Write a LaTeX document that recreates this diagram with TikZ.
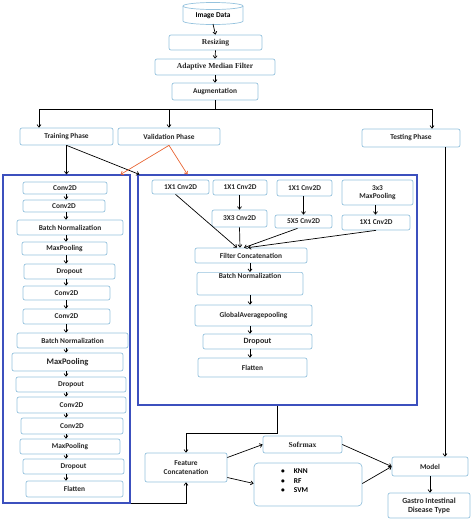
\documentclass[tikz,border=0pt]{standalone}
\usepackage{fontspec}
\setmainfont{Carlito}
\newfontfamily\serifb{Liberation Serif}
\usetikzlibrary{arrows.meta,calc}
\definecolor{nb}{RGB}{150,195,222}
\definecolor{fb}{RGB}{60,80,190}
\definecolor{orr}{RGB}{232,100,50}
\begin{document}
\begin{tikzpicture}[x=1pt,y=-1pt,
  box/.style={draw=nb, line width=0.7pt, rounded corners=2pt, fill=white,
    font=\fontsize{7.4}{8.4}\selectfont\bfseries, inner sep=1pt, align=center, text=black!85},
  sbox/.style={box, font=\fontsize{7.6}{8.6}\selectfont\serifb\bfseries},
  frame/.style={draw=fb, line width=1.1pt, inner sep=0pt},
  arr/.style={-{Straight Barb[length=2.5pt,width=4pt]}, line width=0.7pt, black},
  oarr/.style={arr, draw=orr},
  ln/.style={line width=0.7pt, black}]
\useasboundingbox (0,0) rectangle (474,520);

% cylinder
\draw[draw=nb, line width=0.7pt, fill=white] (183,6) -- (183,21)
  arc[start angle=180,end angle=0,x radius=30,y radius=3.5] -- (243,6)
  arc[start angle=0,end angle=-180,x radius=30,y radius=3.5] -- cycle;
\draw[draw=nb, line width=0.7pt] (183,6) arc[start angle=180,end angle=0,x radius=30,y radius=3.5];
\node[font=\fontsize{7.4}{8.4}\selectfont\bfseries, inner sep=1pt] (img) at (213,15.5) {Image Data};

\node[sbox, minimum width=93, minimum height=15] (rs) at (215.5,42.5) {Resizing};
\node[sbox, minimum width=120, minimum height=16] (amf) at (215,67) {Adaptive Median Filter};
\node[box, minimum width=86, minimum height=17] (aug) at (215,91.5) {Augmentation};
\draw[arr] (img.south |- 0,24) -- (rs.north);
\draw[arr] (rs.south) -- (amf.north);
\draw[arr] (amf.south) -- (aug.north);

\coordinate (hl) at (39,109);
\coordinate (hr) at (432,109);
\draw[ln] (aug.south) -- (aug.south |- hl);
\draw[ln] (hl) -- (hr);

\node[box, minimum width=93, minimum height=17] (train) at (66.5,136.5) {Training Phase};
\node[box, minimum width=102, minimum height=17] (valid) at (169,136.5) {Validation Phase};
\node[box, minimum width=98, minimum height=18] (test) at (411,138) {Testing Phase};
\draw[arr] (hl) -- (hl |- train.north);
\draw[arr] (valid.north |- hl) -- (valid.north);
\draw[arr] (hr) -- (hr |- test.north);

% frames
\node[frame, minimum width=127, minimum height=328] (lbox) at (66.5,339) {};
\node[frame, minimum width=279, minimum height=230] (rbox) at (277.5,290) {};

\draw[arr] (train.south) -- (lbox.north);
\draw[arr] (train.south) -- ([xshift=2pt]rbox.north west);
\draw[oarr] (valid.south) -- ([xshift=-10pt]lbox.north east);
\draw[oarr] (valid.south) -- ([xshift=50pt]rbox.north west);

% left column
\node[box, minimum width=84, minimum height=12] (l1) at (65,188) {Conv2D};
\node[box, minimum width=82, minimum height=12] (l2) at (64,206) {Conv2D};
\node[box, minimum width=106, minimum height=15] (l3) at (70,227.5) {Batch Normalization};
\node[box, minimum width=85, minimum height=13] (l4) at (64.5,248.5) {MaxPooling};
\node[box, minimum width=91, minimum height=15] (l5) at (69.5,271.5) {Dropout};
\node[box, minimum width=87, minimum height=14] (l6) at (66.5,293) {Conv2D};
\node[box, minimum width=87, minimum height=15] (l7) at (66.5,316.5) {Conv2D};
\node[box, minimum width=111, minimum height=15] (l8) at (72.5,340.5) {Batch Normalization};
\node[box, minimum width=111, minimum height=18, font=\fontsize{8.5}{9}\selectfont\bfseries] (l9) at (67.5,362) {MaxPooling};
\node[box, minimum width=110, minimum height=15] (l10) at (71,384.5) {Dropout};
\node[box, minimum width=109, minimum height=16] (l11) at (71.5,405) {Conv2D};
\node[box, minimum width=102, minimum height=16] (l12) at (72,426) {Conv2D};
\node[box, minimum width=100, minimum height=15] (l13) at (70,446.5) {MaxPooling};
\node[box, minimum width=101, minimum height=15] (l14) at (73.5,466.5) {Dropout};
\node[box, minimum width=97, minimum height=16] (l15) at (74.5,489) {Flatten};
\coordinate (lc) at (66,0);
\foreach \a/\b in {l1/l2,l2/l3,l3/l4,l4/l5,l5/l6,l6/l7,l7/l8,l8/l9,l9/l10,l10/l11,l11/l12,l12/l13,l13/l14,l14/l15}
  \draw[arr] (\a.south -| lc) -- (\b.north -| lc);

% right box: inception
\node[box, minimum width=57, minimum height=14] (ca) at (180.5,187) {1X1 Cnv2D};
\node[box, minimum width=54, minimum height=15] (cb) at (240,187.5) {1X1 Cnv2D};
\node[box, minimum width=55, minimum height=16] (cc) at (304.5,188) {1X1 Cnv2D};
\node[box, minimum width=71, minimum height=25] (mpr) at (377.5,192.5) {3x3\\MaxPooling};
\node[box, minimum width=55, minimum height=17] (c3) at (239.5,218.5) {3X3 Cnv2D};
\node[box, minimum width=57, minimum height=13] (c5) at (303.5,221.5) {5X5 Cnv2D};
\node[box, minimum width=68, minimum height=15] (cd) at (376,222.5) {1X1 Cnv2D};
\node[box, minimum width=112, minimum height=15] (fc) at (251,255.5) {Filter Concatenation};
\draw[arr] (cb.south -| c3.north) -- (c3.north);
\draw[arr] (c5.north |- cc.south) -- (c5.north);
\draw[arr] ([xshift=-2pt]mpr.south) -- ([xshift=-2pt]mpr.south |- cd.north);
\draw[arr] ([xshift=-5pt]ca.south) -- ([xshift=-14pt]fc.north);
\draw[arr] (c3.south) -- ([xshift=-11pt]fc.north);
\draw[arr] ([xshift=-6pt]c5.south) -- ([xshift=-7pt]fc.north);
\draw[arr] (cd.south) -- ([xshift=-3pt]fc.north);

\node[box, minimum width=106, anchor=north, text depth=15.5pt] (bnr) at (250,272) {Batch Normalization};
\node[box, minimum width=117, minimum height=21] (gap) at (253.5,315.5) {GlobalAveragepooling};
\node[box, minimum width=109, minimum height=15, font=\fontsize{8}{9}\selectfont\bfseries] (dor) at (257.5,341.5) {Dropout};
\node[box, minimum width=109, minimum height=19] (flr) at (252.5,367.5) {Flatten};
\coordinate (rc) at (250,0);
\foreach \a/\b in {fc/bnr,bnr/gap,gap/dor,dor/flr}
  \draw[arr] (\a.south -| rc) -- (\b.north -| rc);

% bottom
\node[box, minimum width=82, minimum height=29] (fc2) at (186,467.5) {Feature\\Concatenation};
\node[sbox, minimum width=79, minimum height=17] (soft) at (302.5,444.5) {Sofrmax};
\node[box, minimum width=108, minimum height=43, rounded corners=4pt] (clf) at (308,484.5) {};
\node[font=\fontsize{7.4}{8.4}\selectfont\bfseries, inner sep=0pt, align=left, anchor=west] (clft) at (281,481)
  {\textbullet\hspace{9pt}KNN\\[1pt]\textbullet\hspace{9pt}RF\\[1pt]\textbullet\hspace{9pt}SVM};
\node[box, minimum width=76, minimum height=19] (model) at (430,466.5) {Model};
\node[box, minimum width=82, minimum height=25, font=\fontsize{7.8}{9}\selectfont\bfseries] (gast) at (429,505.5) {Gastro Intestinal\\Disease Type};

\draw[arr] (rbox.south) -- ++(0,28) -| (fc2.north);
\draw[arr] (lbox.south east) -| (fc2.south);
\draw[arr] ([yshift=10pt]fc2.east) -- (soft.west);
\draw[arr] ([yshift=-10pt]fc2.east) -- ([yshift=1pt]clf.west);
\draw[arr] (soft.east) -- (model.west);
\draw[arr] ([yshift=1pt]clf.east) -- (model.west);
\draw[arr] (model.south) -- (model.south |- gast.north);
\draw[arr] ([xshift=34pt]test.south) -- ([xshift=34pt]test.south |- model.north);
\end{tikzpicture}
\end{document}
